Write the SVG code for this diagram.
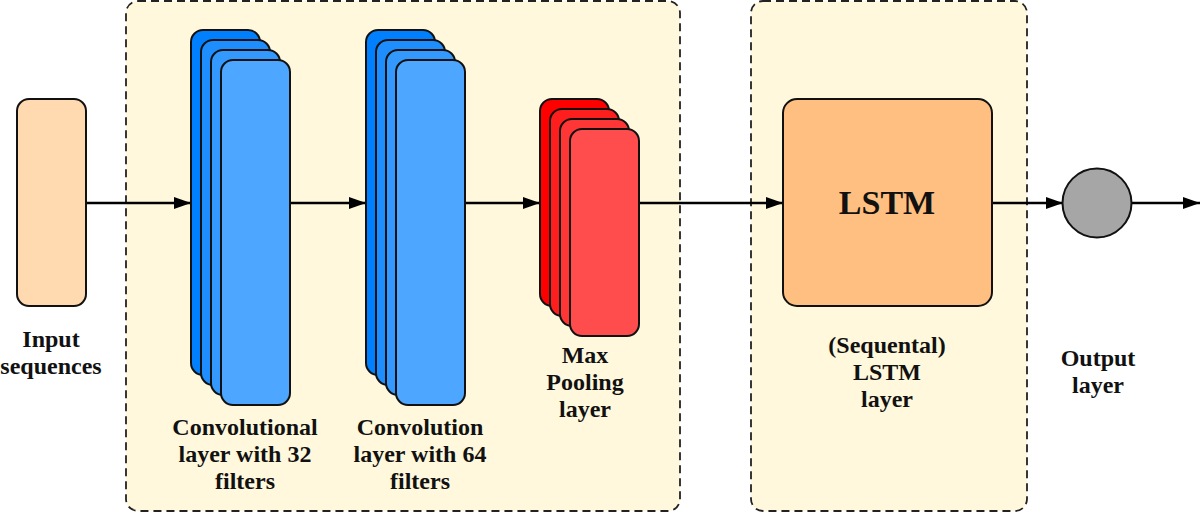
<svg xmlns="http://www.w3.org/2000/svg" width="1200" height="513" viewBox="0 0 1200 513">
<defs>
<marker id="ah" viewBox="0 0 17 12" refX="17" refY="6" markerWidth="17" markerHeight="12" markerUnits="userSpaceOnUse" orient="auto">
<path d="M0,0 L17,6 L0,12 Z" fill="#000"/>
</marker>
</defs>
<style>
.grp{fill:#FFF8DC;stroke:#222;stroke-width:1.8;stroke-dasharray:8 5}
.blk{stroke:#111;stroke-width:2}
.lbl{font-family:'Liberation Serif',serif;font-weight:bold;font-size:24px;fill:#111;text-anchor:middle}
.conn{stroke:#000;stroke-width:2.5;fill:none;marker-end:url(#ah)}
</style>
<rect id="group-cnn" class="grp" x="126" y="1" width="554" height="510" rx="12"/>
<rect id="group-lstm" class="grp" x="751" y="1" width="276" height="510" rx="12"/>
<g id="connectors">
<line class="conn" x1="86" y1="203" x2="191" y2="203"/>
<line class="conn" x1="290" y1="203" x2="366" y2="203"/>
<line class="conn" x1="465" y1="203" x2="540" y2="203"/>
<line class="conn" x1="639" y1="203" x2="783" y2="203"/>
<line class="conn" x1="992" y1="203" x2="1063" y2="203"/>
<line class="conn" x1="1132" y1="203" x2="1200" y2="203"/>
</g>
<g id="input">
<rect class="blk" x="17" y="99" width="69" height="207" rx="12" fill="#FFDAB0"/>
<text class="lbl" x="51" y="347">Input</text>
<text class="lbl" x="51" y="374">sequences</text>
</g>
<g id="conv32">
<rect class="blk" x="191" y="30" width="69" height="345" rx="12" fill="#0080FF"/>
<rect class="blk" x="201" y="40" width="69" height="345" rx="12" fill="#1E8EFF"/>
<rect class="blk" x="211" y="50" width="69" height="345" rx="12" fill="#3399FF"/>
<rect class="blk" x="221" y="60" width="69" height="345" rx="12" fill="#4DA6FF"/>
<text class="lbl" x="245" y="435">Convolutional</text>
<text class="lbl" x="245" y="462">layer with 32</text>
<text class="lbl" x="245" y="489">filters</text>
</g>
<g id="conv64">
<rect class="blk" x="366" y="30" width="69" height="345" rx="12" fill="#0080FF"/>
<rect class="blk" x="376" y="40" width="69" height="345" rx="12" fill="#1E8EFF"/>
<rect class="blk" x="386" y="50" width="69" height="345" rx="12" fill="#3399FF"/>
<rect class="blk" x="396" y="60" width="69" height="345" rx="12" fill="#4DA6FF"/>
<text class="lbl" x="420" y="435">Convolution</text>
<text class="lbl" x="420" y="462">layer with 64</text>
<text class="lbl" x="420" y="489">filters</text>
</g>
<g id="maxpool">
<rect class="blk" x="540" y="99" width="69" height="207" rx="12" fill="#FF0000"/>
<rect class="blk" x="550" y="109" width="69" height="207" rx="12" fill="#FF1E1E"/>
<rect class="blk" x="560" y="119" width="69" height="207" rx="12" fill="#FF3636"/>
<rect class="blk" x="570" y="129" width="69" height="207" rx="12" fill="#FF4D4D"/>
<text class="lbl" x="585" y="363">Max</text>
<text class="lbl" x="585" y="390">Pooling</text>
<text class="lbl" x="585" y="417">layer</text>
</g>
<g id="lstm">
<rect class="blk" x="783" y="99" width="209" height="207" rx="14" fill="#FFBF80" stroke-width="1.5"/>
<text class="lbl" x="887" y="214" style="font-size:34px">LSTM</text>
<text class="lbl" x="887" y="353">(Sequental)</text>
<text class="lbl" x="887" y="380">LSTM</text>
<text class="lbl" x="887" y="407">layer</text>
</g>
<g id="output">
<circle class="blk" cx="1097" cy="203" r="34.5" fill="#A6A6A6"/>
<text class="lbl" x="1098" y="366">Output</text>
<text class="lbl" x="1098" y="393">layer</text>
</g>
</svg>
